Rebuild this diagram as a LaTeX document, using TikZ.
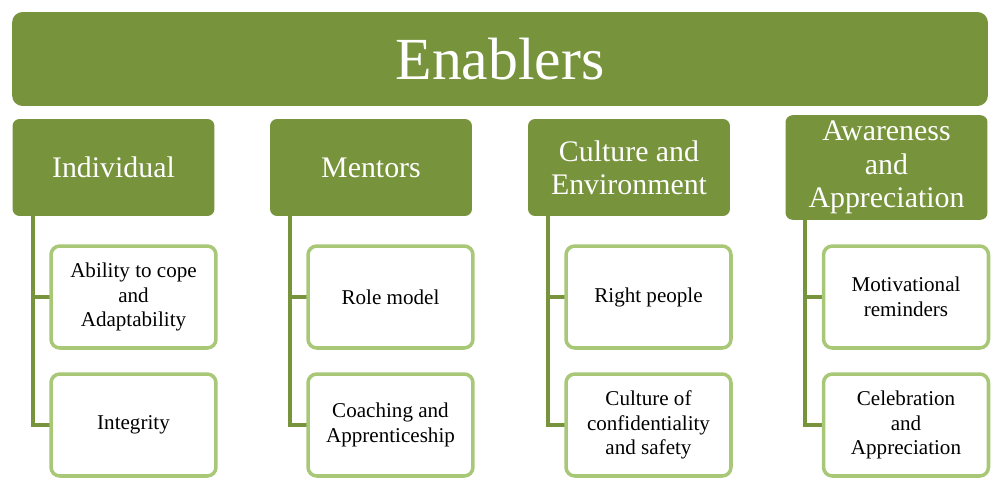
\documentclass[tikz,border=0pt]{standalone}
\usepackage{fontspec}
\setmainfont{Liberation Serif}
\usetikzlibrary{positioning}
\definecolor{darkgreen}{HTML}{77933C}
\definecolor{lightgreen}{HTML}{A8C878}
\tikzset{
	topbar/.style={rectangle,rounded corners=6pt,fill=darkgreen,text=white,minimum width=19.52cm,minimum height=1.88cm,font=\fontsize{34}{36}\selectfont},
	header/.style={rectangle,rounded corners=4pt,fill=darkgreen,text=white,minimum width=4.04cm,minimum height=1.94cm,align=center,font=\fontsize{17}{19}\selectfont},
	leaf/.style={rectangle,rounded corners=5pt,draw=lightgreen,line width=2pt,fill=white,minimum width=3.3cm,minimum height=2.04cm,align=center,font=\fontsize{12}{14}\selectfont},
	link/.style={draw=darkgreen,line width=2.2pt}
}
\begin{document}
\begin{tikzpicture}[x=0.02cm,y=-0.02cm]
	\useasboundingbox (0,0) rectangle (1000,494);
	\node at (500,59) [topbar] (top) {Enablers};

	\node at (113.5,167.5) [header] (h1) {Individual};
	\node at (371,167.5) [header] (h2) {Mentors};
	\node at (629,167.5) [header] (h3) {Culture and\\Environment};
	\node at (886.5,167.5) [header] (h4) {Awareness\\and\\Appreciation};

	\foreach \i/\x in {1/33,2/290,3/548,4/805} {
		\coordinate (t\i) at (\x,216);
		\coordinate (k\i) at (\x,425);
		\coordinate (m\i) at (\x,297);
		\draw [link] (t\i) -- (k\i) -- +(20,0);
		\draw [link] (m\i) -- +(20,0);
	}

	\node at (133.5,297) [leaf] (a1) {Ability to cope\\and\\Adaptability};
	\node at (133.5,425) [leaf] (b1) {Integrity};
	\node at (390.5,297) [leaf] (a2) {Role model};
	\node at (390.5,425) [leaf] (b2) {Coaching and\\Apprenticeship};
	\node at (648.5,297) [leaf] (a3) {Right people};
	\node at (648.5,425) [leaf] (b3) {Culture of\\confidentiality\\and safety};
	\node at (906,297) [leaf] (a4) {Motivational\\reminders};
	\node at (906,425) [leaf] (b4) {Celebration\\and\\Appreciation};
\end{tikzpicture}
\end{document}
